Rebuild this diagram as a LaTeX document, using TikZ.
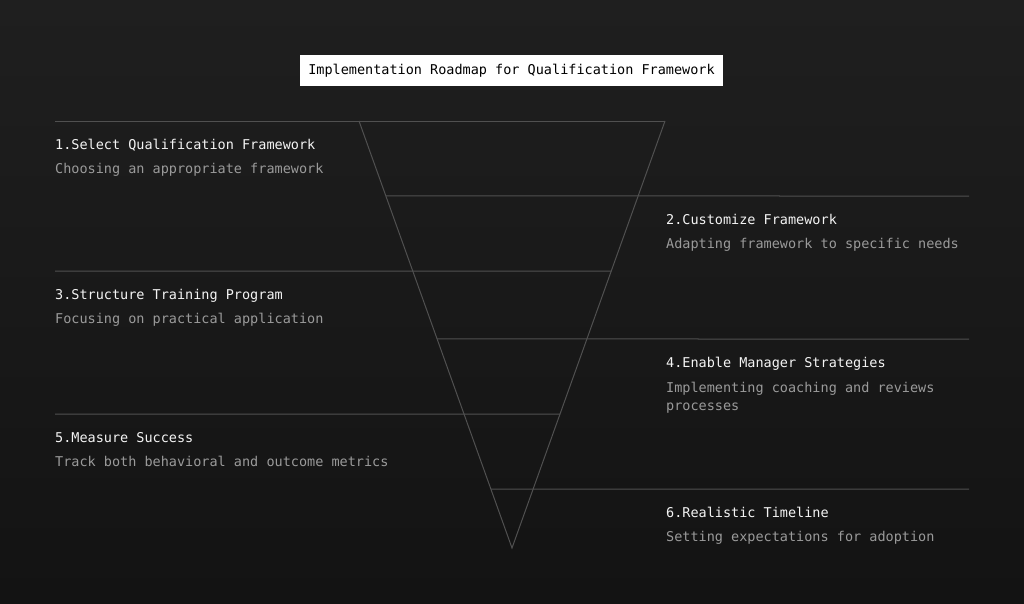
\documentclass[tikz,border=0pt]{standalone}
\usepackage{fontspec}
\setmonofont{DejaVu Sans Mono}
\usetikzlibrary{calc,positioning}
\definecolor{bgtop}{HTML}{1F1F1F}
\definecolor{bgbot}{HTML}{131313}
\definecolor{rulec}{HTML}{505050}
\definecolor{headc}{HTML}{F4F4F4}
\definecolor{descc}{HTML}{9A9A9A}

\begin{document}
\begin{tikzpicture}[x=1pt,y=-1pt,
  lbl/.style={anchor=base west,inner sep=0pt,font=\ttfamily\fontsize{13.5}{18}\selectfont},
  head/.style={lbl,text=headc},
  desc/.style={lbl,text=descc,align=left},
  hline/.style={draw=rulec,line width=1pt}]

\shade[top color=bgtop,bottom color=bgbot] (0,0) rectangle (1024,603);
\useasboundingbox (0,0) rectangle (1024,603);

\node (title) [fill=white,inner sep=0pt,minimum width=423,minimum height=31,
  font=\ttfamily\fontsize{13.5}{16}\selectfont,text=black] at (511.5,70.5)
  {Implementation Roadmap for Qualification Framework};

% funnel corners
\coordinate (ftl) at (359,121);
\coordinate (ftr) at (665,121);
\coordinate (fb) at (512,548);

% where the bands meet the funnel
\coordinate (e2) at ($(ftl)!0.1756!(fb)$);
\coordinate (e3) at ($(ftr)!0.3513!(fb)$);
\coordinate (e4) at ($(ftl)!0.5105!(fb)$);
\coordinate (e5) at ($(ftr)!0.6862!(fb)$);
\coordinate (e6) at ($(ftl)!0.8618!(fb)$);

\coordinate (l1) at (55,121);
\coordinate (r2) at (969,196);
\coordinate (l3) at (55,271);
\coordinate (r4) at (969,339);
\coordinate (l5) at (55,414);
\coordinate (r6) at (969,489);

\draw[hline] (l1)--(ftr);
\draw[hline] (e2)--(r2);
\draw[hline] (l3)--(e3);
\draw[hline] (e4)--(r4);
\draw[hline] (l5)--(e5);
\draw[hline] (e6)--(r6);
\draw[hline] (ftl)--(fb)--(ftr);

\node (s1) [head] at (55,149) {1.Select Qualification Framework};
\node (d1) [desc] at (55,173) {Choosing an appropriate framework};
\node (s2) [head] at (666,224) {2.Customize Framework};
\node (d2) [desc] at (666,248) {Adapting framework to specific needs};
\node (s3) [head] at (55,299) {3.Structure Training Program};
\node (d3) [desc] at (55,323) {Focusing on practical application};
\node (s4) [head] at (666,367) {4.Enable Manager Strategies};
\node (d4) [desc] at (666,410) {Implementing coaching and reviews\\processes};
\node (s5) [head] at (55,442) {5.Measure Success};
\node (d5) [desc] at (55,466) {Track both behavioral and outcome metrics};
\node (s6) [head] at (666,517) {6.Realistic Timeline};
\node (d6) [desc] at (666,541) {Setting expectations for adoption};
\end{tikzpicture}
\end{document}
